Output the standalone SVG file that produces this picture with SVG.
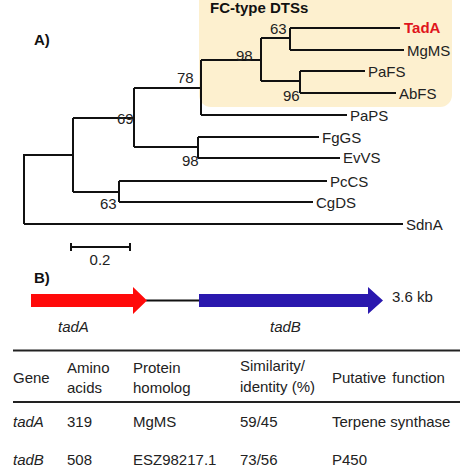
<svg xmlns="http://www.w3.org/2000/svg" width="474" height="474" viewBox="0 0 474 474">
<style>
text{font-family:"Liberation Sans",Arial,sans-serif;font-size:15px;fill:#222}
.b{font-weight:bold;fill:#111}
.i{font-style:italic}
.br{stroke:#111;stroke-width:2;fill:none}
.rule{stroke:#222;stroke-width:2}
</style>
<rect width="474" height="474" fill="#fff"/>
<rect id="fc-box" x="199" y="-12" width="253" height="119" rx="12" fill="#fdf0cf"/>
<text class="b" x="210" y="13">FC-type DTSs</text>
<text class="b" x="34" y="45">A)</text>
<g id="connectors">
<path class="br" d="M24,224V155H73 M73,118V192 M73,118H134 M73,192H119 M134,88V147 M134,88H201 M134,147H198 M201,60V115 M201,60H261 M201,115H347 M261,38V81 M261,38H290 M261,81H300 M290,28V50 M290,28H400 M290,50H404 M300,71V93 M300,71H365 M300,93H396 M198,137V158 M198,137H319 M198,158H340 M119,181V202 M119,181H327 M119,202H313 M24,224H403"/>
<path class="br" d="M71,247H130 M71,243V251 M130,243V251"/>
</g>
<g id="bootstrap">
<text x="270" y="34">63</text>
<text x="236" y="61">98</text>
<text x="283" y="101">96</text>
<text x="177" y="83">78</text>
<text x="117" y="124">69</text>
<text x="182" y="166">98</text>
<text x="100" y="209">63</text>
</g>
<g id="n-tadA"><text class="b" x="404" y="33" style="fill:#e0141c">TadA</text></g>
<g id="n-MgMS"><text x="407" y="56">MgMS</text></g>
<g id="n-PaFS"><text x="368" y="77">PaFS</text></g>
<g id="n-AbFS"><text x="399" y="99">AbFS</text></g>
<g id="n-PaPS"><text x="350" y="121">PaPS</text></g>
<g id="n-FgGS"><text x="322" y="143">FgGS</text></g>
<g id="n-EvVS"><text x="343" y="163">EvVS</text></g>
<g id="n-PcCS"><text x="330" y="187">PcCS</text></g>
<g id="n-CgDS"><text x="316" y="208">CgDS</text></g>
<g id="n-SdnA"><text x="406" y="230">SdnA</text></g>
<text x="100" y="265" text-anchor="middle">0.2</text>
<text class="b" x="34" y="283">B)</text>
<g id="genes">
<line x1="146" y1="300.5" x2="200" y2="300.5" stroke="#111" stroke-width="2"/>
<polygon id="gene-tadA" points="31,294 133,294 133,287 147,300.5 133,314 133,307 31,307" fill="#ff0a0a"/>
<polygon id="gene-tadB" points="199,294 368,294 368,287 383,300.5 368,314 368,307 199,307" fill="#2a18ae"/>
<text x="392" y="302">3.6 kb</text>
<text class="i" x="58" y="332">tadA</text>
<text class="i" x="270" y="332">tadB</text>
</g>
<g id="table">
<line class="rule" x1="13" y1="350.5" x2="460" y2="350.5"/>
<line class="rule" x1="13" y1="402" x2="460" y2="402"/>
<text x="13" y="383">Gene</text>
<text x="67" y="373">Amino</text>
<text x="67" y="393">acids</text>
<text x="133" y="373">Protein</text>
<text x="133" y="393">homolog</text>
<text x="240" y="371">Similarity/</text>
<text x="240" y="392">identity (%)</text>
<text x="332" y="383" word-spacing="2">Putative function</text>
<text class="i" x="13" y="427">tadA</text>
<text x="67" y="427">319</text>
<text x="133" y="427">MgMS</text>
<text x="240" y="427">59/45</text>
<text x="332" y="427">Terpene synthase</text>
<text class="i" x="13" y="465">tadB</text>
<text x="67" y="465">508</text>
<text x="133" y="465">ESZ98217.1</text>
<text x="240" y="465">73/56</text>
<text x="332" y="465">P450</text>
</g>
</svg>
